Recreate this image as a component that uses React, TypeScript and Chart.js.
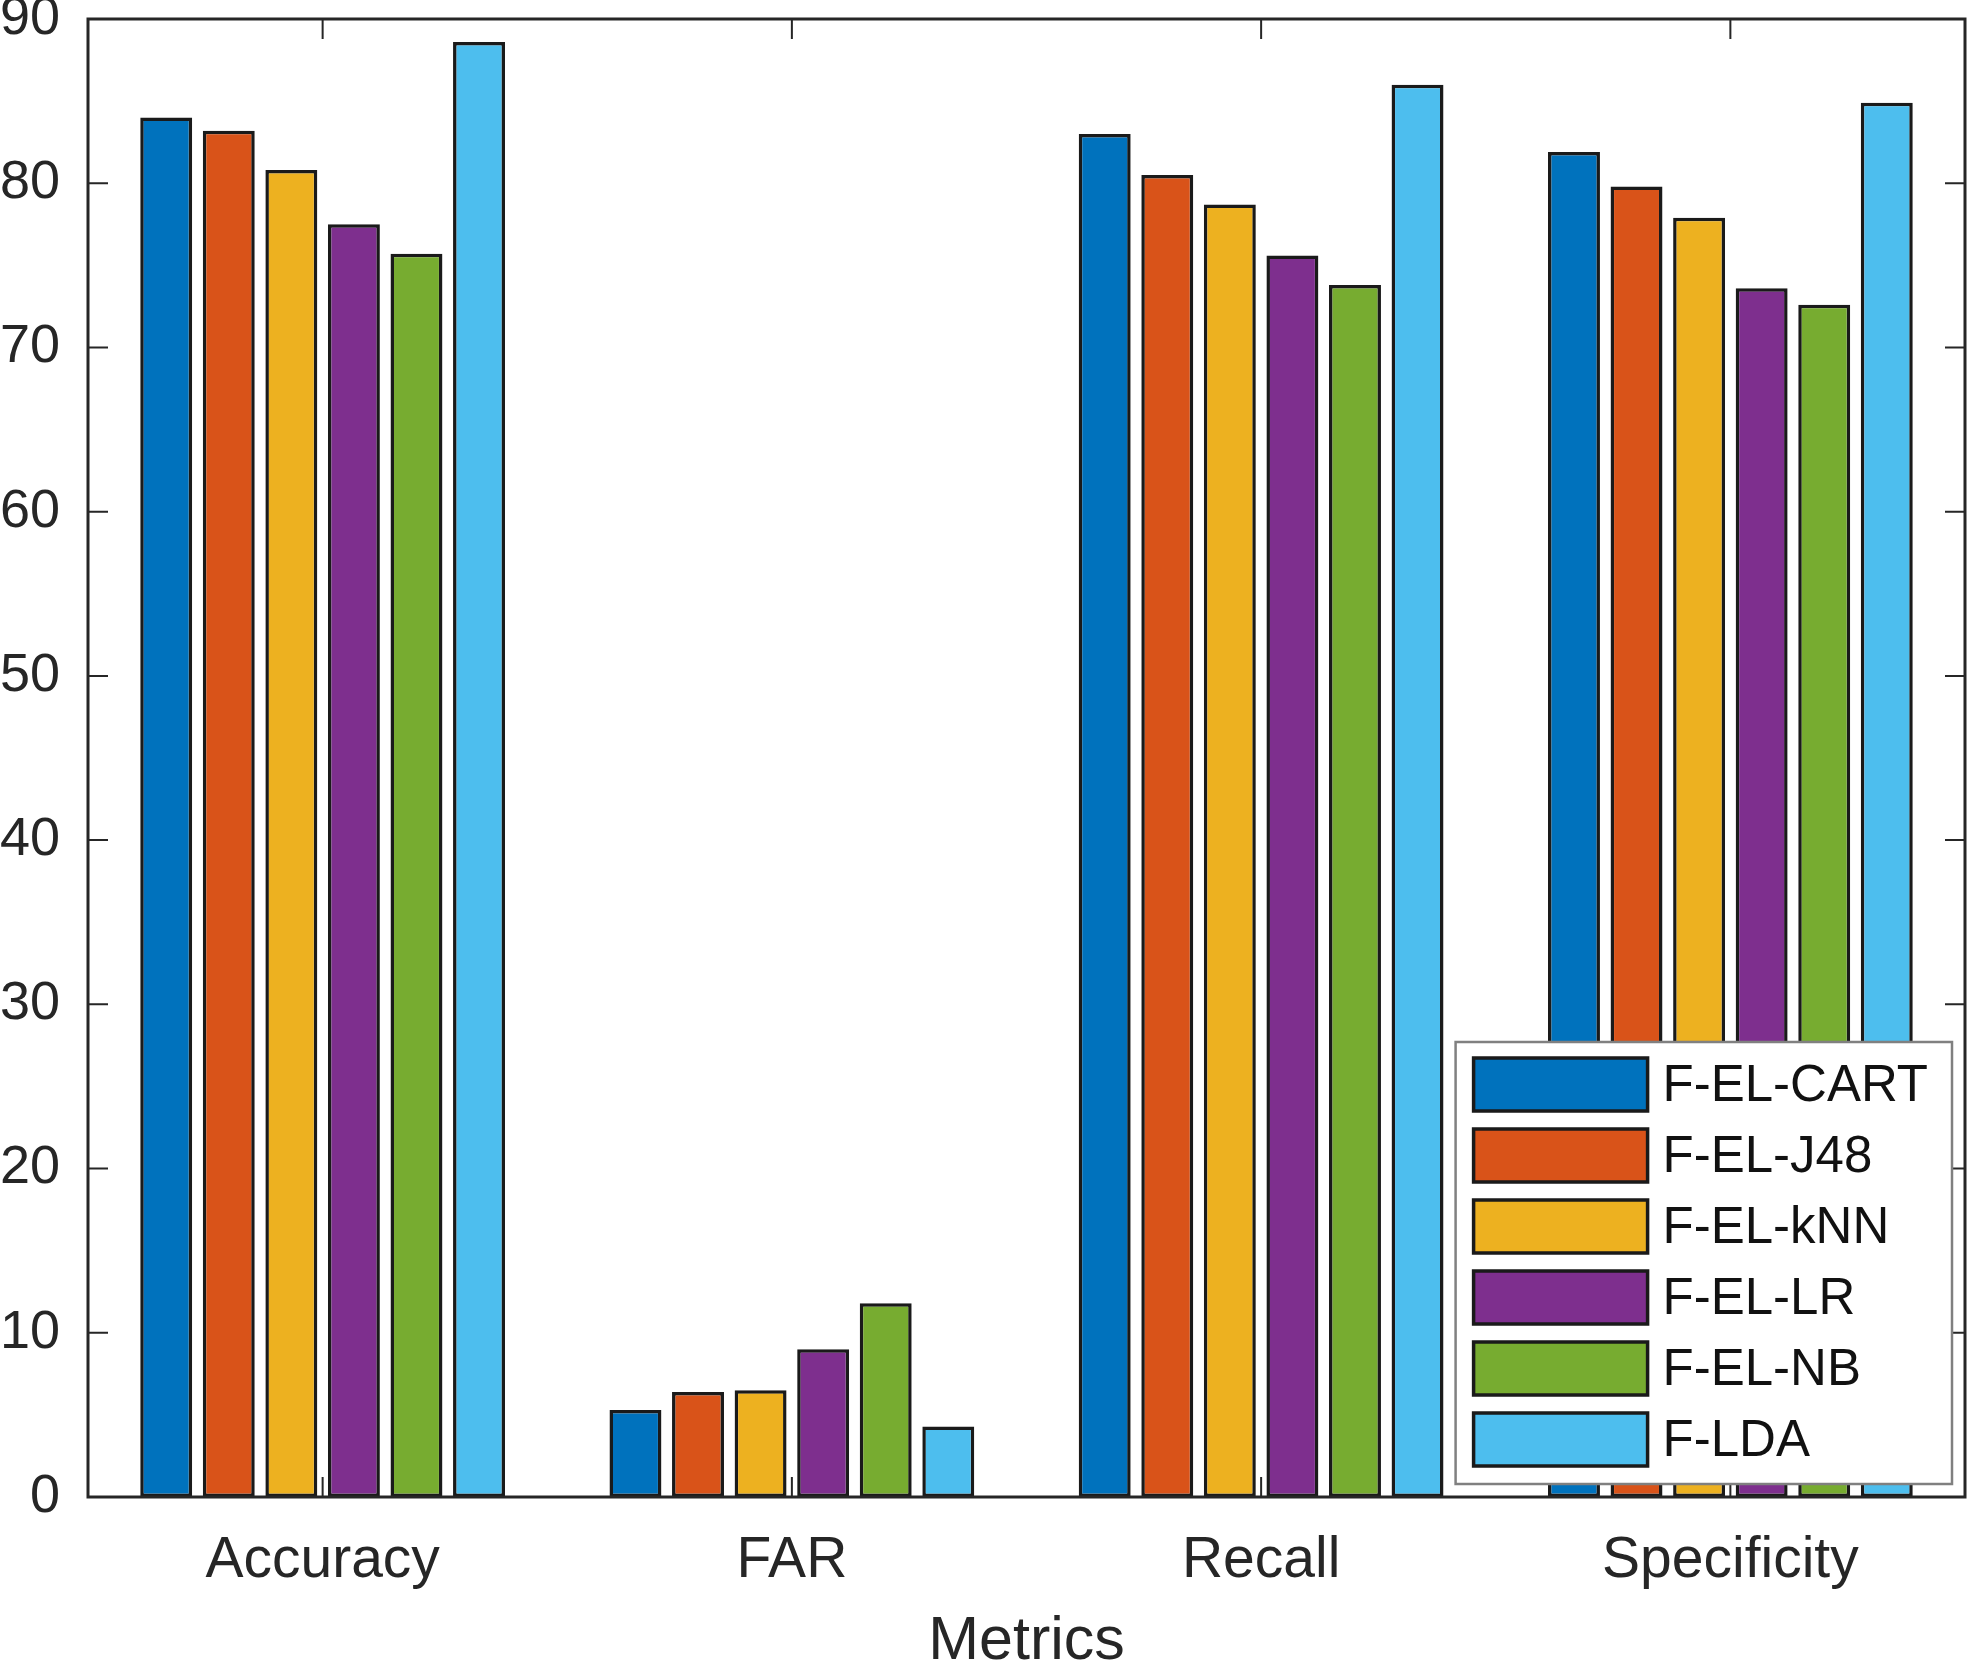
import { useEffect, useRef } from "react";
import { Chart, registerables } from "chart.js";

Chart.register(...registerables);

const categories = ["Accuracy", "FAR", "Recall", "Specificity"];
const modelNames = ["F-EL-CART", "F-EL-J48", "F-EL-kNN", "F-EL-LR", "F-EL-NB", "F-LDA"];
const cartValues = [84.0, 5.3, 83.0, 81.9];
const j48Values = [83.2, 6.4, 80.5, 79.8];
const knnValues = [80.8, 6.5, 78.7, 77.9];
const lrValues = [77.5, 9.0, 75.6, 73.6];
const nbValues = [75.7, 11.8, 73.8, 72.6];
const ldaValues = [88.6, 4.3, 86.0, 84.9];
const yTicks = [0, 10, 20, 30, 40, 50, 60, 70, 80, 90];

const colors = ["#0072BD", "#D95319", "#EDB120", "#7E2F8E", "#77AC30", "#4DBEEE"];
const FONT = '"Liberation Sans", Arial, Helvetica, sans-serif';
const INK = "#262626";

// MATLAB-style box with inward ticks
const axesBox = {
  id: "axesBox",
  beforeDatasetsDraw(chart: any) {
    const { ctx, chartArea: a, scales } = chart;
    const x = scales.x;
    const y = scales.y;
    const len = 20;
    ctx.save();
    ctx.strokeStyle = INK;
    ctx.lineWidth = 2;
    ctx.beginPath();
    y.ticks.forEach((t: any) => {
      const py = y.getPixelForValue(t.value);
      ctx.moveTo(a.left, py);
      ctx.lineTo(a.left + len, py);
      ctx.moveTo(a.right, py);
      ctx.lineTo(a.right - len, py);
    });
    x.ticks.forEach((_: any, i: number) => {
      const px = x.getPixelForTick(i);
      ctx.moveTo(px, a.bottom);
      ctx.lineTo(px, a.bottom - len);
      ctx.moveTo(px, a.top);
      ctx.lineTo(px, a.top + len);
    });
    ctx.stroke();
    ctx.restore();
  },
  afterDatasetsDraw(chart: any) {
    const { ctx, chartArea: a } = chart;
    ctx.save();
    ctx.strokeStyle = INK;
    ctx.lineWidth = 3;
    ctx.strokeRect(a.left, a.top, a.right - a.left, a.bottom - a.top);
    ctx.restore();
  }
};

// legend box inside the lower right corner
const insideLegend = {
  id: "insideLegend",
  afterDraw(chart: any) {
    const { ctx, chartArea: a } = chart;
    const sets = chart.data.datasets;
    const swW = 174;
    const swH = 53;
    const row = 71;
    const padL = 18;
    const padR = 24;
    const padT = 16;
    const padB = 18;
    const gap = 15;
    ctx.save();
    ctx.font = `51px ${FONT}`;
    const textW = Math.max(...sets.map((d: any) => ctx.measureText(d.label).width));
    const w = padL + swW + gap + textW + padR;
    const h = padT + (sets.length - 1) * row + swH + padB;
    const bx = a.right - 13 - w;
    const by = a.bottom - 13 - h;
    ctx.fillStyle = "#ffffff";
    ctx.fillRect(bx, by, w, h);
    ctx.strokeStyle = "#808080";
    ctx.lineWidth = 2.5;
    ctx.strokeRect(bx, by, w, h);
    sets.forEach((d: any, i: number) => {
      const sy = by + padT + i * row;
      ctx.fillStyle = d.backgroundColor;
      ctx.fillRect(bx + padL, sy, swW, swH);
      ctx.strokeStyle = "#1a1a1a";
      ctx.lineWidth = 3.5;
      ctx.strokeRect(bx + padL, sy, swW, swH);
      ctx.fillStyle = "#111111";
      ctx.textAlign = "left";
      ctx.textBaseline = "middle";
      ctx.fillText(d.label, bx + padL + swW + gap, sy + swH / 2 + 2);
    });
    ctx.restore();
  }
};

export default function App() {
  const canvasRef = useRef<HTMLCanvasElement | null>(null);
  const chartRef = useRef<Chart | null>(null);

  useEffect(() => {
    if (!canvasRef.current) return;
    if (chartRef.current) chartRef.current.destroy();

    const series = [cartValues, j48Values, knnValues, lrValues, nbValues, ldaValues];

    chartRef.current = new Chart(canvasRef.current, {
      type: "bar",
      data: {
        labels: categories,
        datasets: series.map((values, i) => ({
          label: modelNames[i],
          data: values,
          backgroundColor: colors[i],
          borderColor: "#1a1a1a",
          borderWidth: 3.5,
          borderSkipped: false,
          categoryPercentage: 0.8,
          barPercentage: 0.83
        }))
      },
      options: {
        responsive: false,
        animation: false,
        devicePixelRatio: 1,
        layout: { padding: { top: 19, right: 2, left: 0, bottom: 0 } },
        plugins: {
          legend: { display: false },
          tooltip: { enabled: false }
        },
        scales: {
          x: {
            grid: { display: false, drawTicks: false },
            border: { display: false },
            ticks: {
              color: INK,
              font: { family: FONT, size: 57 },
              padding: 30,
              maxRotation: 0,
              autoSkip: false
            },
            title: {
              display: true,
              text: "Metrics",
              color: INK,
              font: { family: FONT, size: 61, lineHeight: 0.7 },
              padding: { top: 0, bottom: 0 }
            },
            afterFit: (scale: any) => {
              scale.height = 167;
              scale.paddingLeft = 0;
              scale.paddingRight = 0;
            }
          },
          y: {
            min: 0,
            max: 90,
            grid: { display: false, drawTicks: false },
            border: { display: false },
            afterBuildTicks: (scale: any) => {
              scale.ticks = yTicks.map((v) => ({ value: v }));
            },
            ticks: {
              color: INK,
              font: { family: FONT, size: 54 },
              padding: 28
            },
            afterFit: (scale: any) => {
              scale.width = 88;
              scale.paddingTop = 0;
              scale.paddingBottom = 0;
            }
          }
        }
      },
      plugins: [axesBox, insideLegend]
    });

    return () => {
      if (chartRef.current) {
        chartRef.current.destroy();
        chartRef.current = null;
      }
    };
  }, []);

  return (
    <div style={{ position: "fixed", left: 0, top: 0, width: 1967, height: 1664, background: "#fff" }}>
      <canvas ref={canvasRef} width={1967} height={1664} />
    </div>
  );
}
